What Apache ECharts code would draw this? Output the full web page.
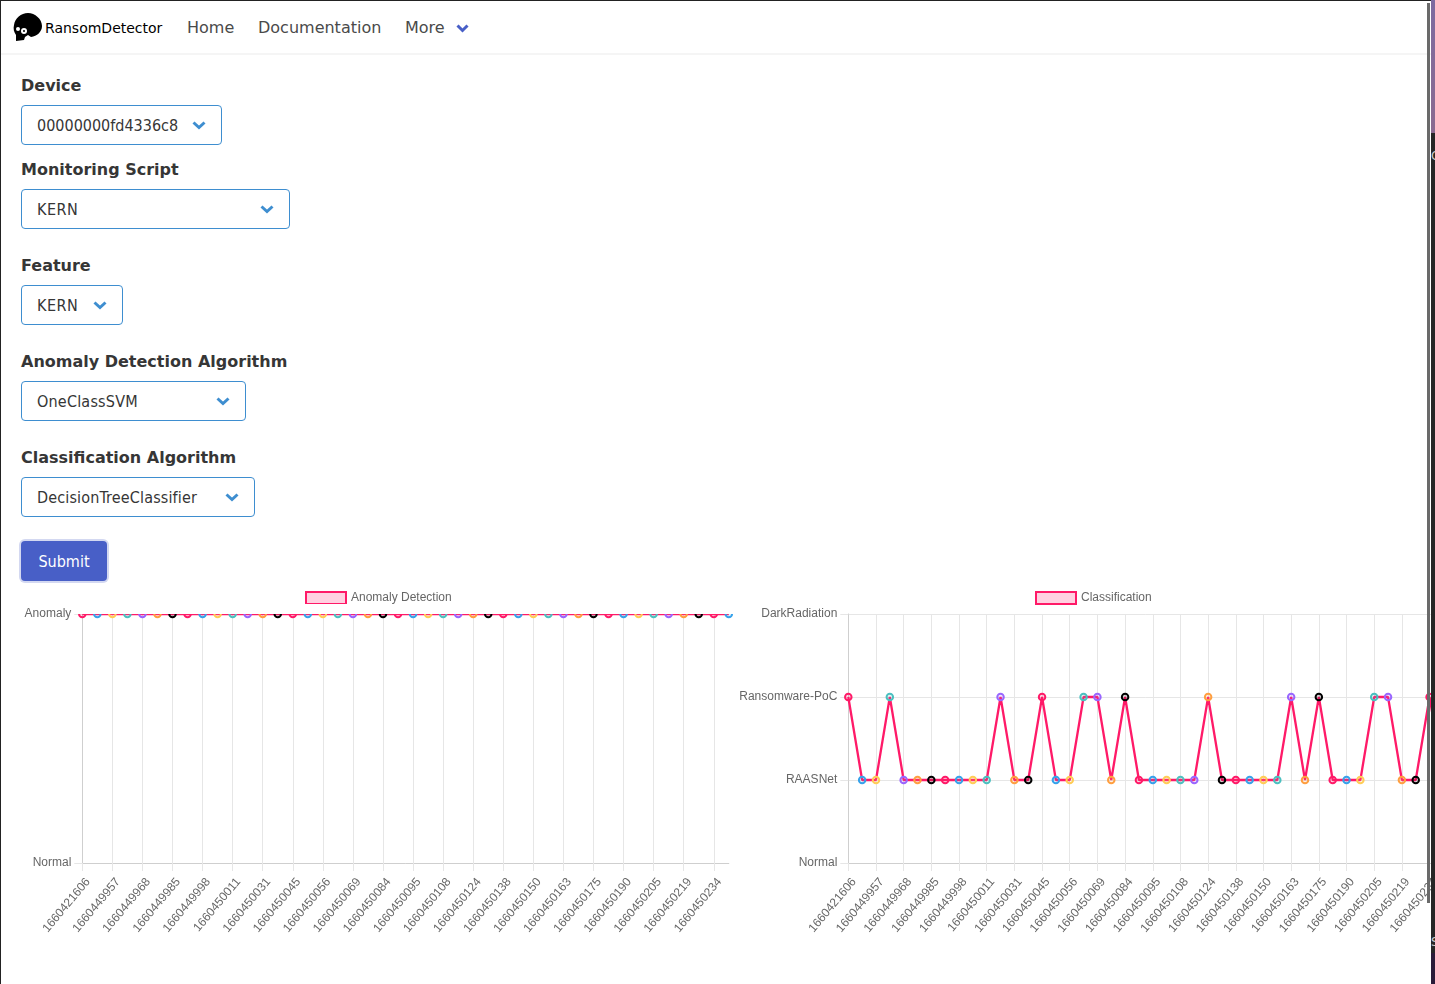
<!DOCTYPE html>
<html>
<head>
<meta charset="utf-8">
<script src="https://cdn.jsdelivr.net/npm/echarts@6/dist/echarts.min.js"></script>
<style>
html,body{margin:0;padding:0;width:1435px;height:984px;overflow:hidden;background:#fff;font-family:"DejaVu Sans",sans-serif;color:#363636}
.abs{position:absolute}
#page{position:absolute;left:0;top:0;width:1431px;height:984px;overflow:hidden;background:#fff}
.nav{position:absolute;top:18px;font-size:16px;line-height:20px;color:#4a4a4a}
.lab{position:absolute;left:21px;font-size:16px;font-weight:700;line-height:20px;color:#363636}
.sel{position:absolute;left:21px;height:38px;border:1px solid #3e8ed0;border-radius:4px;background:#fff;font-size:16px;line-height:38px;color:#363636;box-sizing:content-box;font-family:"DejaVu Sans Condensed","DejaVu Sans",sans-serif;font-stretch:condensed}
.sel span{position:absolute;left:15px;top:1px;white-space:nowrap}
.sel svg{position:absolute;top:15px}
#chart{position:absolute;left:0;top:585px;width:1460px;height:399px}
</style>
</head>
<body>
<div id="page">
  <div class="abs" style="left:0;top:53px;width:1431px;height:2px;background:#f5f5f5"></div>
  <svg class="abs" style="left:13px;top:13px" width="30" height="29" viewBox="0 0 30 29">
    <path d="M15 0C22 0 29 6 29 13C29 19 24 23 18 24L15 22L12 24L11 27L3 28L3 22C1 19 0 16 1 12C2 5 8 0 15 0Z" fill="#000"/>
    <circle cx="5" cy="16" r="2" fill="#fff"/><circle cx="11" cy="18" r="3" fill="#fff"/><circle cx="11" cy="18" r="1" fill="#000"/>
  </svg>
  <div class="abs" style="left:45px;top:19px;font-size:14px;line-height:19px;color:#000">RansomDetector</div>
  <div class="nav" style="left:187px">Home</div>
  <div class="nav" style="left:258px">Documentation</div>
  <div class="nav" style="left:405px">More</div>
  <svg class="abs" style="left:456px;top:24px" width="13" height="9" viewBox="0 0 13 9"><path d="M1.5 1.5L6.5 6.5L11.5 1.5" fill="none" stroke="#485fc7" stroke-width="3"/></svg>

  <div class="lab" style="top:76px">Device</div>
  <div class="sel" style="top:105px;width:199px"><span>00000000fd4336c8</span><svg style="left:170px" width="14" height="9" viewBox="0 0 14 9"><path d="M1.5 1.5L7 6.5L12.5 1.5" fill="none" stroke="#3e8ed0" stroke-width="3"/></svg></div>

  <div class="lab" style="top:160px">Monitoring Script</div>
  <div class="sel" style="top:189px;width:267px"><span style="letter-spacing:.5px">KERN</span><svg style="left:238px" width="14" height="9" viewBox="0 0 14 9"><path d="M1.5 1.5L7 6.5L12.5 1.5" fill="none" stroke="#3e8ed0" stroke-width="3"/></svg></div>

  <div class="lab" style="top:256px">Feature</div>
  <div class="sel" style="top:285px;width:100px"><span style="letter-spacing:.5px">KERN</span><svg style="left:71px" width="14" height="9" viewBox="0 0 14 9"><path d="M1.5 1.5L7 6.5L12.5 1.5" fill="none" stroke="#3e8ed0" stroke-width="3"/></svg></div>

  <div class="lab" style="top:352px">Anomaly Detection Algorithm</div>
  <div class="sel" style="top:381px;width:223px"><span style="letter-spacing:.2px">OneClassSVM</span><svg style="left:194px" width="14" height="9" viewBox="0 0 14 9"><path d="M1.5 1.5L7 6.5L12.5 1.5" fill="none" stroke="#3e8ed0" stroke-width="3"/></svg></div>

  <div class="lab" style="top:448px">Classification Algorithm</div>
  <div class="sel" style="top:477px;width:232px"><span style="letter-spacing:.15px">DecisionTreeClassifier</span><svg style="left:203px" width="14" height="9" viewBox="0 0 14 9"><path d="M1.5 1.5L7 6.5L12.5 1.5" fill="none" stroke="#3e8ed0" stroke-width="3"/></svg></div>

  <div class="abs" style="left:21px;top:541px;width:86px;height:40px;box-sizing:border-box;background:#485fc7;border-radius:4px;box-shadow:0 0 0 2px #d3d8f1;color:#fff;font-size:16px;line-height:41px;text-align:center;font-family:'DejaVu Sans Condensed','DejaVu Sans',sans-serif;font-stretch:condensed">Submit</div>

  <div id="chart"></div>
  <div class="abs" style="left:1427px;top:3px;width:3px;height:900px;background:#6a6a6a"></div>
  <div class="abs" style="left:0;top:0;width:1px;height:984px;background:#222"></div>
  <div class="abs" style="left:0;top:0;width:1431px;height:1px;background:#222"></div>
</div>
<div class="abs" style="left:1431px;top:0;width:4px;height:133px;background:linear-gradient(#7d6aa0,#8a6a90)"></div>
<div class="abs" style="left:1431px;top:133px;width:4px;height:820px;background:#262626;overflow:hidden;color:#ccc;font-size:12px;line-height:14px">
  <span class="abs" style="left:0;top:16px">C</span><span class="abs" style="left:0;top:802px">S</span>
</div>
<div class="abs" style="left:1431px;top:953px;width:4px;height:31px;background:#2a1b38"></div>

<script>
const timestamps = ['1660421606','1660449950','1660449957','1660449963','1660449968','1660449977','1660449985','1660449991','1660449998','1660450004','1660450011','1660450021','1660450031','1660450038','1660450045','1660450050','1660450056','1660450063','1660450069','1660450077','1660450084','1660450089','1660450095','1660450101','1660450108','1660450116','1660450124','1660450131','1660450138','1660450144','1660450150','1660450157','1660450163','1660450169','1660450175','1660450183','1660450190','1660450198','1660450205','1660450212','1660450219','1660450226','1660450234','1660450240'];
const anomalyLevels = ['Normal','Anomaly'];
const classLevels = ['Normal','RAASNet','Ransomware-PoC','DarkRadiation'];
const anomalyValues = ['Anomaly','Anomaly','Anomaly','Anomaly','Anomaly','Anomaly','Anomaly','Anomaly','Anomaly','Anomaly','Anomaly','Anomaly','Anomaly','Anomaly','Anomaly','Anomaly','Anomaly','Anomaly','Anomaly','Anomaly','Anomaly','Anomaly','Anomaly','Anomaly','Anomaly','Anomaly','Anomaly','Anomaly','Anomaly','Anomaly','Anomaly','Anomaly','Anomaly','Anomaly','Anomaly','Anomaly','Anomaly','Anomaly','Anomaly','Anomaly','Anomaly','Anomaly','Anomaly','Anomaly'];
const R = 'Ransomware-PoC', N = 'RAASNet';
const classValues = [R,N,N,R,N,N,N,N,N,N,N,R,N,N,R,N,N,R,R,N,R,N,N,N,N,N,R,N,N,N,N,N,R,N,R,N,N,N,R,R,N,N,R,N];
const pointColors = ['#ff1a68','#36a2eb','#ffcd56','#4bc0c0','#9966ff','#ff9f40','#000000'];
const lineColor = '#ff1a68', legendFill = '#ffd1e1';

const textStyle = {color:'#666',fontFamily:'"Liberation Sans",Arial,sans-serif',fontSize:12};
const gridLine = {show:true,lineStyle:{color:'#e6e6e6',width:1}};
const axisLine = {show:true,lineStyle:{color:'#cfcfcf',width:1}};

function pts(values){
  return values.map((v,i)=>({value:v,itemStyle:{color:pointColors[i%7]+'26',borderColor:pointColors[i%7],borderWidth:2}}));
}
function xAxis(g){
  return {type:'category',gridIndex:g,data:timestamps,boundaryGap:false,
    axisLine,axisTick:{show:true,interval:1,length:8,alignWithLabel:true,lineStyle:{color:'#e6e6e6'}},
    splitLine:{...gridLine,interval:1},
    axisLabel:{...textStyle,interval:1,rotate:50,margin:8,verticalAlign:'top',padding:[4,3,0,0],hideOverlap:false}};
}
function yAxis(g,levels){
  return {type:'category',gridIndex:g,data:levels,boundaryGap:false,
    axisLine,axisTick:{show:true,length:8,lineStyle:{color:'#e6e6e6'}},
    splitLine:gridLine,
    axisLabel:{...textStyle,margin:11,showMinLabel:true,showMaxLabel:true}};
}
function series(name,g,values){
  return {name,type:'line',xAxisIndex:g,yAxisIndex:g,data:pts(values),symbol:'circle',symbolSize:6.5,showAllSymbol:true,
    lineStyle:{color:lineColor,width:2.3},itemStyle:{color:lineColor},clip:false,animation:false,z:5};
}
function legend(name,left){
  return {data:[{name,icon:'rect',itemStyle:{color:legendFill,borderColor:lineColor,borderWidth:2}}],
    left,top:1,itemWidth:40,itemHeight:12,itemGap:5,textStyle:{...textStyle,padding:[0,0,0,0]},selectedMode:false};
}
const chart = echarts.init(document.getElementById('chart'),null,{renderer:'canvas'});
chart.setOption({
  animation:false,
  legend:[legend('Anomaly Detection',300),legend('Classification',1030)],
  grid:[{left:82.3,top:29,width:646.5,height:249},{left:848.3,top:29,width:595.1,height:249}],
  xAxis:[xAxis(0),xAxis(1)],
  yAxis:[yAxis(0,anomalyLevels),yAxis(1,classLevels)],
  series:[series('Anomaly Detection',0,anomalyValues),series('Classification',1,classValues)],
  graphic:[{type:'rect',z:100,silent:true,shape:{x:76,y:19,width:664,height:10},style:{fill:'#fff'}}]
});
</script>
</body>
</html>
